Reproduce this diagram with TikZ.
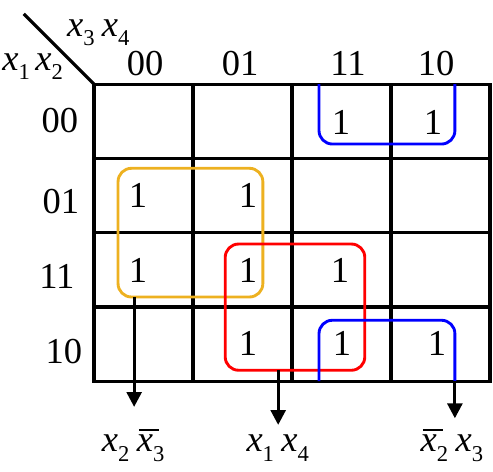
\documentclass[tikz,border=0pt]{standalone}
\usepackage{fontspec}
\setmainfont{Liberation Serif}
\usetikzlibrary{arrows.meta}

\definecolor{loopyellow}{RGB}{237,177,32}

% variable with subscript, and with a bar over it
\newcommand{\xs}[1]{\textit{x}\raisebox{-5.5pt}{\fontsize{13}{13}\selectfont #1}}
\newcommand{\xbs}[1]{\makebox[0pt][l]{\hspace{0.06em}\rule[0.58em]{0.56em}{0.06em}}\xs{#1}}

\begin{document}
\begin{tikzpicture}[font=\fontsize{21}{25}\selectfont,
    every node/.style={inner sep=0pt},
    gridline/.style={line width=0.065cm},
    kloop/.style={line width=0.058cm, rounded corners=0.27cm},
    termarrow/.style={line width=0.06cm, -{Triangle[width=0.3cm,length=0.3cm]}}]

\useasboundingbox (-1.9,-1.82) rectangle (8.06,7.7);

% map
    \draw[gridline] (0,0) grid[xstep=2,ystep=1.5] (8,6);
    \draw[gridline] (0,0) rectangle (8,6);
% corner
    \draw[gridline] (-1.42,7.42) -- (0,6);
    \node[anchor=base west] (x34) at (-0.55,6.97) {\xs{3}\hspace{0.2em}\xs{4}};
    \node[anchor=base west] (x12) at (-1.86,6.28) {\xs{1}\hspace{0.15em}\xs{2}};

% column labels
    \node[anchor=base] (c00) at (1.03,6.18) {00};
    \node[anchor=base] (c01) at (2.95,6.18) {01};
    \node[anchor=base] (c11) at (5.13,6.18) {11};
    \node[anchor=base] (c10) at (6.91,6.18) {10};
% row labels
    \node[anchor=base] (r00) at (-0.69,5.03) {00};
    \node[anchor=base] (r01) at (-0.67,3.39) {01};
    \node[anchor=base] (r11) at (-0.75,1.88) {11};
    \node[anchor=base] (r10) at (-0.61,0.36) {10};

% ones
    \node (m2) at (4.99,5.22) {1};
    \node (m3) at (6.85,5.22) {1};
    \node (m4) at (0.89,3.75) {1};
    \node (m5) at (3.11,3.75) {1};
    \node (m12) at (0.89,2.23) {1};
    \node (m13) at (3.11,2.23) {1};
    \node (m15) at (4.97,2.23) {1};
    \node (m9) at (3.11,0.76) {1};
    \node (m11) at (5.01,0.76) {1};
    \node (m10) at (6.93,0.76) {1};

% loops
    \draw[kloop, loopyellow] (0.485,1.70) rectangle (3.41,4.30);
    \draw[kloop, red] (2.65,0.22) rectangle (5.47,2.77);
    \draw[kloop, blue] (4.545,6) -- (4.545,4.79) -- (7.29,4.79) -- (7.29,6);
    \draw[kloop, blue] (4.545,0) -- (4.545,1.23) -- (7.29,1.23) -- (7.29,0);

% terms
    \node[anchor=base] (t1) at (0.79,-1.43) {\xs{2}\hspace{0.2em}\xbs{3}};
    \node[anchor=base] (t2) at (3.71,-1.43) {\xs{1}\hspace{0.2em}\xs{4}};
    \node[anchor=base] (t3) at (7.23,-1.43) {\xbs{2}\hspace{0.2em}\xs{3}};

    \coordinate (s1) at (0.81,1.70);
    \coordinate (s2) at (3.72,0.22);
    \coordinate (s3) at (7.29,0);
    \draw[termarrow, shorten >=0.43cm] (s1) -- (s1 |- t1.north);
    \draw[termarrow, shorten >=0.2cm] (s2) -- (s2 |- t2.north);
    \draw[termarrow, shorten >=0.2cm] (s3) -- (s3 |- t3.north);

\end{tikzpicture}
\end{document}
